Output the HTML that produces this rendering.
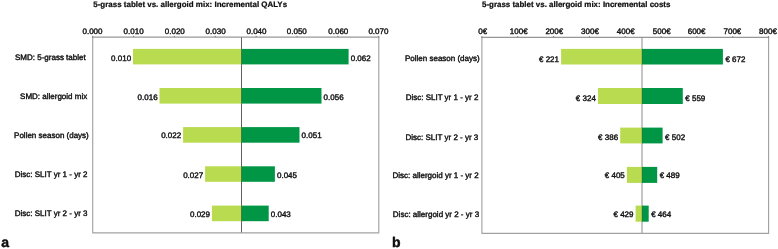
<!DOCTYPE html>
<html lang="en">
<head>
<meta charset="utf-8">
<title>5-grass tablet vs. allergoid mix: tornado diagrams</title>
<style>
html,body{margin:0;padding:0;background:#fff;}
body{width:778px;height:249px;overflow:hidden;}
svg{display:block;}
svg text{text-rendering:geometricPrecision;font-family:"Liberation Sans",Arial,Helvetica,sans-serif;font-size:8px;fill:#0a0a0a;stroke:#0a0a0a;stroke-width:0.36px;stroke-linejoin:round;}
svg text.b{font-weight:bold;stroke-width:0.2px;}
svg text.l{font-size:14px;stroke-width:0.4px;}
</style>
</head>
<body>
<svg width="778" height="249" viewBox="0 0 778 249">
<defs><filter id="soft" x="0" y="0" width="778" height="249" filterUnits="userSpaceOnUse"><feGaussianBlur stdDeviation="0.38"/></filter></defs>
<rect width="778" height="249" fill="#fff"/>
<g filter="url(#soft)">
<g id="chart-a">
<path d="M241.5 37.1V232.9" stroke="#606060" stroke-width="1"/>
<rect x="133.0" y="48.90" width="108.5" height="15.5" fill="#b8db4f"/>
<rect x="241.5" y="48.90" width="107.1" height="15.5" fill="#009645"/>
<rect x="159.5" y="88.00" width="82.0" height="15.6" fill="#b8db4f"/>
<rect x="241.5" y="88.00" width="80.0" height="15.6" fill="#009645"/>
<rect x="183.1" y="127.10" width="58.4" height="15.6" fill="#b8db4f"/>
<rect x="241.5" y="127.10" width="58.0" height="15.6" fill="#009645"/>
<rect x="205.1" y="166.30" width="36.4" height="15.5" fill="#b8db4f"/>
<rect x="241.5" y="166.30" width="33.4" height="15.5" fill="#009645"/>
<rect x="211.9" y="205.60" width="29.6" height="15.6" fill="#b8db4f"/>
<rect x="241.5" y="205.60" width="27.2" height="15.6" fill="#009645"/>
<path d="M241.5 48.90V64.40" stroke="#3a4a20" stroke-opacity="0.35" stroke-width="1"/>
<path d="M241.5 88.00V103.60" stroke="#3a4a20" stroke-opacity="0.35" stroke-width="1"/>
<path d="M241.5 127.10V142.70" stroke="#3a4a20" stroke-opacity="0.35" stroke-width="1"/>
<path d="M241.5 166.30V181.80" stroke="#3a4a20" stroke-opacity="0.35" stroke-width="1"/>
<path d="M241.5 205.60V221.20" stroke="#3a4a20" stroke-opacity="0.35" stroke-width="1"/>
<path d="M92.7 37.1V232.9M378.8 37.1V232.9M92.2 232.9H379.3" fill="none" stroke="#a2a2a2" stroke-width="1.15"/>
<path d="M92.2 37.1H379.3" fill="none" stroke="#7e7e7e" stroke-width="1"/>
<path d="M92.70 35.800000000000004V37.1" stroke="#7e7e7e" stroke-width="1"/>
<text x="92.50" y="34.1" text-anchor="middle">0.000</text>
<path d="M133.57 35.800000000000004V37.1" stroke="#7e7e7e" stroke-width="1"/>
<text x="133.60" y="34.1" text-anchor="middle">0.010</text>
<path d="M174.44 35.800000000000004V37.1" stroke="#7e7e7e" stroke-width="1"/>
<text x="174.80" y="34.1" text-anchor="middle">0.020</text>
<path d="M215.31 35.800000000000004V37.1" stroke="#7e7e7e" stroke-width="1"/>
<text x="215.60" y="34.1" text-anchor="middle">0.030</text>
<path d="M256.19 35.800000000000004V37.1" stroke="#7e7e7e" stroke-width="1"/>
<text x="256.50" y="34.1" text-anchor="middle">0.040</text>
<path d="M297.06 35.800000000000004V37.1" stroke="#7e7e7e" stroke-width="1"/>
<text x="296.80" y="34.1" text-anchor="middle">0.050</text>
<path d="M337.93 35.800000000000004V37.1" stroke="#7e7e7e" stroke-width="1"/>
<text x="338.30" y="34.1" text-anchor="middle">0.060</text>
<path d="M378.80 35.800000000000004V37.1" stroke="#7e7e7e" stroke-width="1"/>
<text x="378.40" y="34.1" text-anchor="middle">0.070</text>
<text x="85.7" y="60.3" text-anchor="end">SMD: 5-grass tablet</text>
<text x="87.2" y="99.3" text-anchor="end">SMD: allergoid mix</text>
<text x="88.8" y="137.5" text-anchor="end">Pollen season (days)</text>
<text x="87.5" y="177.0" text-anchor="end">Disc: SLIT yr 1 - yr 2</text>
<text x="87.5" y="215.7" text-anchor="end">Disc: SLIT yr 2 - yr 3</text>
<text x="131.1" y="60.9" text-anchor="end">0.010</text>
<text x="350.7" y="60.9">0.062</text>
<text x="157.6" y="99.8" text-anchor="end">0.016</text>
<text x="323.6" y="99.8">0.056</text>
<text x="181.2" y="138.2" text-anchor="end">0.022</text>
<text x="301.6" y="138.2">0.051</text>
<text x="203.2" y="177.8" text-anchor="end">0.027</text>
<text x="277.0" y="177.8">0.045</text>
<text x="210.0" y="216.9" text-anchor="end">0.029</text>
<text x="270.8" y="216.9">0.043</text>
<text class="b" x="93.3" y="7.0" textLength="193.8" lengthAdjust="spacingAndGlyphs">5-grass tablet vs. allergoid mix: Incremental QALYs</text>
<text class="b l" x="1.3" y="247.0">a</text>
</g>
<g id="chart-b">
<path d="M642.0 37.3V233.4" stroke="#8c8c8c" stroke-width="1"/>
<rect x="561.1" y="48.90" width="80.9" height="15.6" fill="#b8db4f"/>
<rect x="642.0" y="48.90" width="80.9" height="15.6" fill="#009645"/>
<rect x="598.0" y="88.00" width="44.0" height="16.0" fill="#b8db4f"/>
<rect x="642.0" y="88.00" width="40.8" height="16.0" fill="#009645"/>
<rect x="620.2" y="127.60" width="21.8" height="15.8" fill="#b8db4f"/>
<rect x="642.0" y="127.60" width="20.6" height="15.8" fill="#009645"/>
<rect x="626.9" y="166.90" width="15.1" height="16.0" fill="#b8db4f"/>
<rect x="642.0" y="166.90" width="15.2" height="16.0" fill="#009645"/>
<rect x="635.6" y="205.60" width="6.4" height="16.1" fill="#b8db4f"/>
<rect x="642.0" y="205.60" width="6.7" height="16.1" fill="#009645"/>
<path d="M642.0 48.90V64.50" stroke="#3a4a20" stroke-opacity="0.35" stroke-width="1"/>
<path d="M642.0 88.00V104.00" stroke="#3a4a20" stroke-opacity="0.35" stroke-width="1"/>
<path d="M642.0 127.60V143.40" stroke="#3a4a20" stroke-opacity="0.35" stroke-width="1"/>
<path d="M642.0 166.90V182.90" stroke="#3a4a20" stroke-opacity="0.35" stroke-width="1"/>
<path d="M642.0 205.60V221.70" stroke="#3a4a20" stroke-opacity="0.35" stroke-width="1"/>
<path d="M481.9 37.3V233.4M768.6 37.3V233.4M481.4 233.4H769.1" fill="none" stroke="#a2a2a2" stroke-width="1.15"/>
<path d="M481.4 37.3H769.1" fill="none" stroke="#7e7e7e" stroke-width="1"/>
<path d="M481.90 36.0V37.3" stroke="#7e7e7e" stroke-width="1"/>
<text x="482.70" y="34.2" text-anchor="middle">0€</text>
<path d="M517.74 36.0V37.3" stroke="#7e7e7e" stroke-width="1"/>
<text x="518.70" y="34.2" text-anchor="middle">100€</text>
<path d="M553.58 36.0V37.3" stroke="#7e7e7e" stroke-width="1"/>
<text x="554.30" y="34.2" text-anchor="middle">200€</text>
<path d="M589.41 36.0V37.3" stroke="#7e7e7e" stroke-width="1"/>
<text x="590.00" y="34.2" text-anchor="middle">300€</text>
<path d="M625.25 36.0V37.3" stroke="#7e7e7e" stroke-width="1"/>
<text x="625.70" y="34.2" text-anchor="middle">400€</text>
<path d="M661.09 36.0V37.3" stroke="#7e7e7e" stroke-width="1"/>
<text x="661.70" y="34.2" text-anchor="middle">500€</text>
<path d="M696.92 36.0V37.3" stroke="#7e7e7e" stroke-width="1"/>
<text x="696.60" y="34.2" text-anchor="middle">600€</text>
<path d="M732.76 36.0V37.3" stroke="#7e7e7e" stroke-width="1"/>
<text x="732.40" y="34.2" text-anchor="middle">700€</text>
<path d="M768.60 36.0V37.3" stroke="#7e7e7e" stroke-width="1"/>
<text x="768.00" y="34.2" text-anchor="middle">800€</text>
<text x="479.7" y="60.8" text-anchor="end">Pollen season (days)</text>
<text x="478.4" y="99.8" text-anchor="end">Disc: SLIT yr 1 - yr 2</text>
<text x="478.3" y="139.5" text-anchor="end">Disc: SLIT yr 2 - yr 3</text>
<text x="478.7" y="177.7" text-anchor="end">Disc: allergoid yr 1 - yr 2</text>
<text x="479.1" y="217.0" text-anchor="end">Disc: allergoid yr 2 - yr 3</text>
<text x="559.0" y="61.8" text-anchor="end">€ 221</text>
<text x="725.4" y="61.8">€ 672</text>
<text x="595.9" y="100.8" text-anchor="end">€ 324</text>
<text x="685.3" y="100.8">€ 559</text>
<text x="618.1" y="140.2" text-anchor="end">€ 386</text>
<text x="665.1" y="140.2">€ 502</text>
<text x="624.8" y="178.4" text-anchor="end">€ 405</text>
<text x="659.7" y="178.4">€ 489</text>
<text x="633.5" y="217.4" text-anchor="end">€ 429</text>
<text x="651.2" y="217.4">€ 464</text>
<text class="b" x="482.0" y="7.0" textLength="188.4" lengthAdjust="spacingAndGlyphs">5-grass tablet vs. allergoid mix: Incremental costs</text>
<text class="b l" x="392.1" y="246.8">b</text>
</g>
</g>
</svg>
</body>
</html>
